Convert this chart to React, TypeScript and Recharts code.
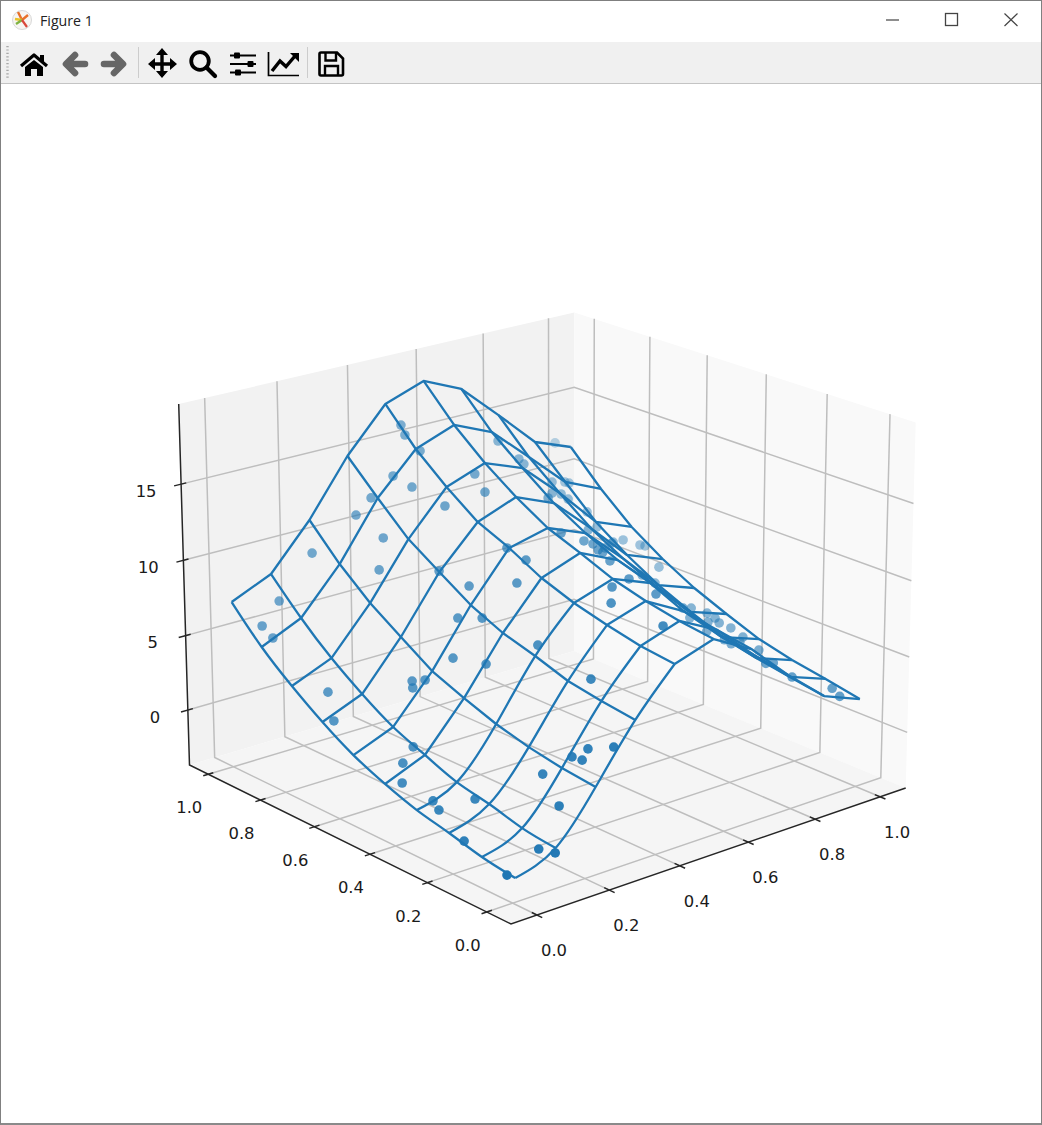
import React from "react";
import { Polygon, Scatter, ScatterChart, XAxis, YAxis } from "recharts";

const WIDTH = 1042;
const HEIGHT = 1125;
const BLUE = "#1f77b4";

// wireframe surface, zSurface[i][j] sits over xGrid[i], yGrid[j]
const xGrid = [0.004, 0.115, 0.226, 0.337, 0.448, 0.56, 0.671, 0.782, 0.893, 1.004];
const yGrid = [-0.004, 0.107, 0.218, 0.329, 0.44, 0.552, 0.663, 0.774, 0.885, 0.996];
const zSurface = [
  [-2.13, -1.81, -1.28, -0.79, -0.07, 0.85, 2.08, 3.54, 5.23, 7.35],
  [-1.08, -0.81, -0.25, 0.2, 1.01, 1.9, 3.15, 4.63, 6.42, 8.5],
  [1.96, 2.21, 2.61, 3.17, 3.94, 4.8, 6.16, 7.54, 9.29, 11.41],
  [5.42, 5.71, 6.09, 6.81, 7.43, 8.39, 9.72, 11.07, 12.99, 15.01],
  [8.2, 8.47, 8.94, 9.51, 10.29, 11.42, 12.32, 13.84, 15.59, 17.84],
  [9.04, 9.33, 9.76, 10.35, 11.22, 12.04, 13.29, 14.77, 16.55, 18.76],
  [7.66, 8.02, 8.39, 9.38, 10.06, 11.03, 12.23, 13.79, 15.45, 17.62],
  [5.23, 5.65, 6.02, 6.88, 7.7, 8.68, 9.88, 11.46, 13.13, 15.24],
  [3.09, 3.45, 3.82, 4.35, 5.18, 6.15, 7.37, 8.82, 10.78, 12.77],
  [2.12, 2.56, 2.94, 3.48, 4.32, 5.24, 6.4, 7.8, 9.64, 11.79],
];

// scattered samples
const sampleX = [
  0.452, 0.446, 0.454, 0.384, 0.399, 0.328, 0.292, 0.305, 0.196, 0.269, 0.096, 0.032, 0.037, 0.423, 0.523, 0.511, 0.674,
  0.992, 0.713, 0.718, 0.812, 0.896, 0.908, 0.739, 0.805, 0.829, 0.676, 0.893, 0.874, 0.753, 0.589, 0.636, 0.656, 0.648,
  0.657, 0.732, 0.874, 0.933, 0.976, 0.99, 0.964, 0.641, 0.621, 0.541, 0.503, 0.649, 0.825, 0.525, 0.444, 0.455, 0.413,
  0.337, 0.356, 0.308, 0.332, 0.353, 0.259, 0.284, 0.799, 0.914, 0.893, 0.947, 0.952, 0.944, 0.911, 0.893, 0.962, 0.963,
  0.893, 0.9, 0.927, 0.949, 0.892, 0.91, 0.893, 0.96, 0.95, 0.357, 0.058, 0.025, 0.189, 0.182, 0.206, 0.111, 0.067,
  0.031, 0.044, 0.034, 0.009, 0.105, -0.002, 0.091, 0.102, 0.171, 0.2, 0.245, 0.248, 0.266, 0.286, 0.891, 0.892,
];
const sampleY = [
  0.944, 0.922, 0.877, 0.888, 0.838, 0.898, 0.908, 0.825, 0.948, 0.795, 0.941, 0.92, 0.887, 0.749, 0.765, 0.714, 0.866,
  1.04, 0.838, 0.826, 0.837, 0.89, 0.889, 0.75, 0.796, 0.799, 0.689, 0.806, 0.748, 0.638, 0.54, 0.516, 0.508, 0.481,
  0.475, 0.555, 0.695, 0.723, 0.712, 0.71, 0.631, 0.432, 0.344, 0.309, 0.268, 0.285, 0.532, 0.121, 0.555, 0.502, 0.483,
  0.664, 0.581, 0.562, 0.506, 0.339, 0.519, 0.434, 0.362, 0.462, 0.443, 0.444, 0.422, 0.399, 0.401, 0.385, 0.379, 0.339,
  0.325, 0.31, 0.31, 0.27, 0.185, 0.18, 0.1, 0.04, 0.005, 0.165, 0.713, 0.649, 0.577, 0.566, 0.552, 0.476, 0.457,
  0.414, 0.323, 0.29, 0.173, 0.254, 0.016, 0.023, -0.018, 0.051, 0.14, 0.096, 0.066, 0.068, 0.007, 0.71, 0.563,
];
const sampleZ = [
  16.76, 16.28, 15.48, 14.15, 13.68, 12.96, 11.97, 10.97, 9.74, 9.3, 7.24, 6.16, 5.59, 12.91, 14.32, 13.55, 14.96,
  11.85, 13.72, 13.43, 11.58, 10.72, 10.59, 11.88, 11.1, 10.59, 12.35, 9.28, 8.78, 10.11, 11.62, 10.98, 10.72, 10.57,
  10.42, 9.64, 8.07, 7.71, 7.18, 7.04, 6.33, 10.25, 9.85, 10.1, 9.61, 9.13, 7.41, 9.13, 11.42, 10.95, 9.86,
  9.77, 9.29, 7.65, 7.92, 7.33, 5.69, 5.81, 6.65, 5.14, 4.76, 4.72, 4.52, 4.42, 4.68, 4.3, 4.12, 3.81,
  4.2, 4.0, 3.94, 3.57, 3.73, 3.68, 3.5, 2.78, 2.6, 6.5, 3.26, 2.12, 4.19, 3.88, 4.35, 1.26, 0.68,
  0.02, -0.44, -0.67, -1.43, -0.17, -2.08, -1.21, -1.17, 0.68, 1.73, 2.88, 2.91, 3.48, 3.97, 7.92, 6.21,
];

const xTicks = [0, 0.2, 0.4, 0.6, 0.8, 1];
const yTicks = [0, 0.2, 0.4, 0.6, 0.8, 1];
const zTicks = [0, 5, 10, 15];
const xLim = [-0.0705, 1.0802];
const yLim = [-0.08, 1.0734];
const zLim = [-3.73, 20.19];

// camera fitted to the three panes, box coords (0..1) to the view plane
function project(x: number, y: number, z: number) {
  const u = (x - xLim[0]) / (xLim[1] - xLim[0]);
  const v = (y - yLim[0]) / (yLim[1] - yLim[0]);
  const w = (z - zLim[0]) / (zLim[1] - zLim[0]);
  const d = 0.0806 * u + 0.0961 * v - 0.0307 * w + 1;
  return {
    px: (467.7 * u - 303.3 * v - 17.3 * w + 511) / d,
    py: (-72.5 * u - 85.5 * v - 408 * w + 924) / d,
    depth: d,
  };
}

const [x0, x1] = xLim;
const [y0, y1] = yLim;
const [z0, z1] = zLim;

const panes = [
  { fill: "#f2f2f2", pts: [project(x0, y1, z0), project(x0, y1, z1), project(x1, y1, z1), project(x1, y1, z0)] },
  { fill: "#f9f9f9", pts: [project(x1, y1, z0), project(x1, y1, z1), project(x1, y0, z1), project(x1, y0, z0)] },
  { fill: "#f5f5f5", pts: [project(x0, y0, z0), project(x1, y0, z0), project(x1, y1, z0), project(x0, y1, z0)] },
];

const gridLines = [
  ...xTicks.map((t) => [project(t, y0, z0), project(t, y1, z0), project(t, y1, z1)]),
  ...yTicks.map((t) => [project(x0, t, z0), project(x1, t, z0), project(x1, t, z1)]),
  ...zTicks.map((t) => [project(x0, y1, t), project(x1, y1, t), project(x1, y0, t)]),
];

const axisLines = [
  [project(x1, y0, z0), project(x0, y0, z0), project(x0, y1, z0), project(x0, y1, z1)],
  ...xTicks.map((t) => [project(t, y0 - 0.017, z0), project(t, y0 + 0.017, z0)]),
  ...yTicks.map((t) => [project(x0 - 0.014, t, z0), project(x0 + 0.014, t, z0)]),
  ...zTicks.map((t) => [project(x0 - 0.019, y1, t), project(x0 + 0.014, y1, t)]),
];

const tickLabels = [
  ...xTicks.map((t) => ({ ...project(t, y0, z0), label: t.toFixed(1), dx: 17, dy: 35.5 })),
  ...yTicks.map((t) => ({ ...project(x0, t, z0), label: t.toFixed(1), dx: -19, dy: 33.5 })),
  ...zTicks.map((t) => ({ ...project(x0, y1, t), label: String(t), dx: t > 5 ? -35 : -33, dy: 7 })),
];

const xLine = (i: number) => yGrid.map((y, j) => project(xGrid[i], y, zSurface[i][j]));
const yLine = (j: number, from = 0, to = 9) =>
  xGrid.slice(from, to + 1).map((x, i) => project(x, yGrid[j], zSurface[i + from][j]));

// only the low front corner of the surface bends softly, the rest has hard kinks
const softLines = [xLine(0), xLine(1), ...[0, 1, 2, 3].map((j) => yLine(j, 0, 4))];
const hardLines = [
  ...[2, 3, 4, 5, 6, 7, 8, 9].map((i) => xLine(i)),
  ...[0, 1, 2, 3].map((j) => yLine(j, 4, 9)),
  ...[4, 5, 6, 7, 8, 9].map((j) => yLine(j)),
];

const samples = sampleX.map((x, i) => project(x, sampleY[i], sampleZ[i]));
const depths = samples.map((s) => s.depth);
const nearest = Math.min(...depths);
const farthest = Math.max(...depths);
// depth shading like mplot3d: near points solid, far ones fade to 0.3
const shade = (d: number) => 1 - (0.7 * (d - nearest)) / (farthest - nearest);

const noDot = () => <g />;
const meshStyle = { stroke: BLUE, strokeWidth: 2.3, strokeLinejoin: "round" };

function Chart3D() {
  return (
    <ScatterChart width={WIDTH} height={HEIGHT} margin={{ top: 0, right: 0, bottom: 0, left: 0 }}>
      <XAxis type="number" dataKey="px" domain={[0, WIDTH]} allowDataOverflow hide />
      <YAxis type="number" dataKey="py" domain={[0, HEIGHT]} reversed allowDataOverflow hide />
      {panes.map((p, i) => (
        <Scatter
          key={"pane" + i}
          data={p.pts}
          shape={noDot}
          line={(props: any) => <Polygon key={"poly" + i} points={props.points} fill={p.fill} stroke="none" />}
          isAnimationActive={false}
        />
      ))}
      {gridLines.map((l, i) => (
        <Scatter
          key={"grid" + i}
          data={l}
          shape={noDot}
          line={{ stroke: "#bebebe", strokeWidth: 1.5 }}
          isAnimationActive={false}
        />
      ))}
      {axisLines.map((l, i) => (
        <Scatter
          key={"axis" + i}
          data={l}
          shape={noDot}
          line={{ stroke: "#262626", strokeWidth: 1.5 }}
          isAnimationActive={false}
        />
      ))}
      <Scatter
        data={tickLabels}
        isAnimationActive={false}
        shape={(p: any) => (
          <text
            x={p.cx + p.payload.dx}
            y={p.cy + p.payload.dy}
            textAnchor="middle"
            dominantBaseline="central"
            fontFamily="DejaVu Sans"
            fontSize={16.4}
            fill="#1a1a1a"
          >
            {p.payload.label}
          </text>
        )}
      />
      <Scatter
        data={samples}
        isAnimationActive={false}
        shape={(p: any) => <circle cx={p.cx} cy={p.cy} r={4.8} fill={BLUE} fillOpacity={shade(p.payload.depth)} />}
      />
      {softLines.map((l, i) => (
        <Scatter
          key={"soft" + i}
          data={l}
          shape={noDot}
          line={meshStyle}
          lineJointType="natural"
          isAnimationActive={false}
        />
      ))}
      {hardLines.map((l, i) => (
        <Scatter key={"hard" + i} data={l} shape={noDot} line={meshStyle} isAnimationActive={false} />
      ))}
    </ScatterChart>
  );
}

function WindowFrame() {
  return (
    <svg width={WIDTH} height={84} style={{ position: "absolute", left: 0, top: 0, display: "block" }}>
      <rect x={0} y={0} width={WIDTH} height={42} fill="#ffffff" />
      <rect x={0} y={42} width={WIDTH} height={41} fill="#f0f0f0" />
      <rect x={0} y={83} width={WIDTH} height={1} fill="#c4c4c4" />
      <rect x={0} y={0} width={WIDTH} height={1} fill="#7f7f7f" />

      {/* app icon */}
      <circle cx={22} cy={20} r={9.5} fill="#f7f5f2" stroke="#d8d8d8" />
      <path d="M22 20 L18 12 M22 20 L28 15" stroke="#e8702a" strokeWidth={2.4} />
      <path d="M22 20 L15 19" stroke="#e8c22a" strokeWidth={2.6} />
      <path d="M22 20 L16 24" stroke="#7fb342" strokeWidth={2.2} />
      <path d="M22 20 L27 27" stroke="#d9483b" strokeWidth={2.2} />
      <text x={40} y={26} fontFamily="Open Sans" fontSize={14.2} fill="#222">
        Figure 1
      </text>

      {/* window buttons */}
      <path d="M886 20 H899" stroke="#444" strokeWidth={1.2} />
      <rect x={945.5} y={13.5} width={12} height={12} fill="none" stroke="#444" strokeWidth={1.3} />
      <path d="M1004.5 13.5 L1017.5 26 M1017.5 13.5 L1004.5 26" stroke="#444" strokeWidth={1.2} />

      {/* toolbar grip and separators */}
      <path d="M7.5 46 V79" stroke="#a8a8a8" strokeWidth={2.4} strokeDasharray="1.2 2.2" />
      <path d="M138.5 47 V78 M307.5 47 V78" stroke="#cccccc" />

      {/* home */}
      <path d="M21 66 L34 55 L47 66" fill="none" stroke="#000" strokeWidth={3.2} strokeLinejoin="round" />
      <path d="M25 67 L34 60 L43 67 V76 H37 V69 H31 V76 H25 Z M40 55 H44 V62 H40 Z" fill="#000" />
      {/* back, forward */}
      <path
        d="M85 64 H67 M75 55 L66 64 L75 73"
        fill="none"
        stroke="#666"
        strokeWidth={6.6}
        strokeLinecap="round"
        strokeLinejoin="round"
      />
      <path
        d="M104 64 H122 M114 55 L123 64 L114 73"
        fill="none"
        stroke="#666"
        strokeWidth={6.6}
        strokeLinecap="round"
        strokeLinejoin="round"
      />
      {/* pan */}
      <path d="M162 52 V76 M150 64 H174" stroke="#000" strokeWidth={3.4} />
      <path
        d="M162 48 L168 55 H156 Z M162 78 L168 71 H156 Z M148 64 L155 58 V70 Z M177 64 L170 58 V70 Z"
        fill="#000"
      />
      {/* zoom */}
      <circle cx={200} cy={61} r={8.8} fill="none" stroke="#000" strokeWidth={3.8} />
      <path d="M206.5 67.5 L215 76" stroke="#000" strokeWidth={4.2} strokeLinecap="round" />
      {/* sliders */}
      <path d="M230 55.5 H256 M230 64 H256 M230 72.5 H256" stroke="#000" strokeWidth={1.8} />
      <rect x={234} y={52.5} width={6} height={6} rx={1} fill="#000" />
      <rect x={247.5} y={61} width={6} height={6} rx={1} fill="#000" />
      <rect x={235} y={69.5} width={6} height={6} rx={1} fill="#000" />
      {/* subplots chart */}
      <path d="M268.5 52 V75.5 H299" fill="none" stroke="#000" strokeWidth={1.7} />
      <path d="M272 71 L280 61 L286 66.5 L295 56" fill="none" stroke="#000" strokeWidth={3.4} />
      <path d="M290 53 H299 V62 Z" fill="#000" />
      {/* save */}
      <path
        d="M321 52.5 H337 L343 58.5 V74 Q343 75.5 341.5 75.5 H321 Q319.5 75.5 319.5 74 V54 Q319.5 52.5 321 52.5 Z"
        fill="none"
        stroke="#000"
        strokeWidth={2.6}
      />
      <path d="M325.5 53 V60.5 H336 V53 M325 75 V66 H338 V75" fill="none" stroke="#000" strokeWidth={2.4} />
    </svg>
  );
}

export default function App() {
  return (
    <div
      style={{
        position: "absolute",
        left: 0,
        top: 0,
        width: WIDTH,
        height: HEIGHT,
        background: "#ffffff",
        overflow: "hidden",
      }}
    >
      <WindowFrame />
      <div style={{ position: "absolute", left: 0, top: 0 }}>
        <Chart3D />
      </div>
      <div
        style={{
          position: "absolute",
          left: 0,
          top: 0,
          width: WIDTH,
          height: HEIGHT,
          boxSizing: "border-box",
          borderLeft: "1px solid #808080",
          borderRight: "1px solid #808080",
          borderBottom: "2px solid #8a8a8a",
          pointerEvents: "none",
        }}
      />
    </div>
  );
}
